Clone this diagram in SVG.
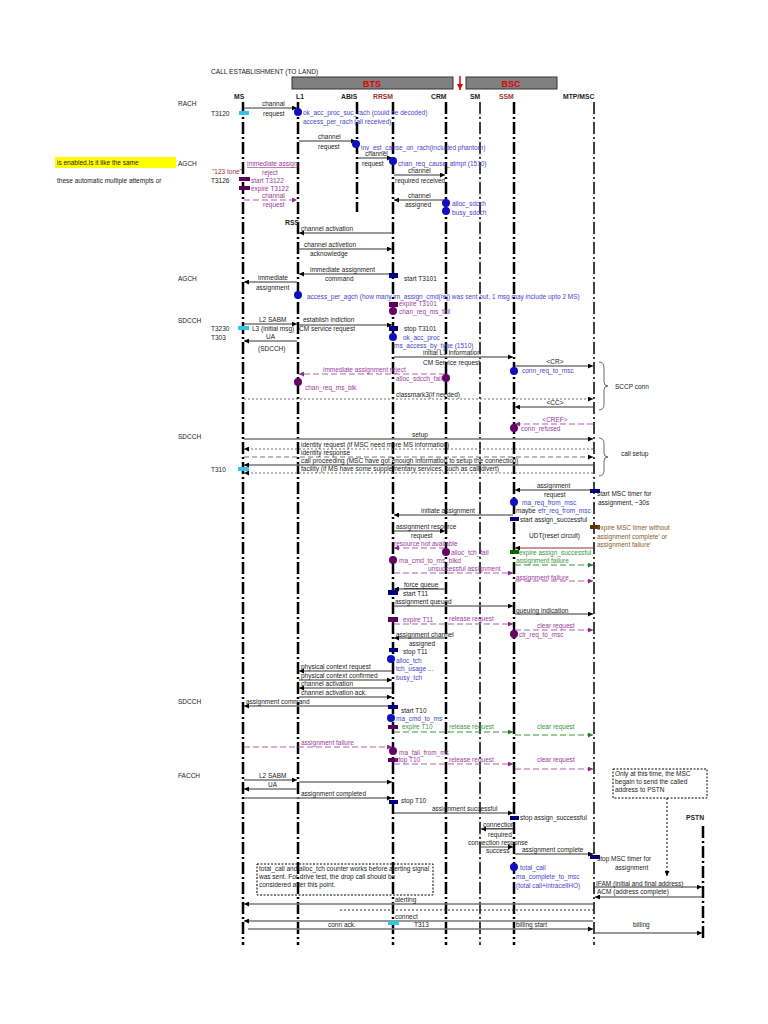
<svg xmlns="http://www.w3.org/2000/svg" width="768" height="1024" viewBox="0 0 768 1024">
<style>
.t{font-family:"Liberation Sans",Arial,sans-serif;font-size:6.5px;fill:#222}
.h{font-family:"Liberation Sans",Arial,sans-serif;font-size:6.8px;font-weight:bold;fill:#222}
.bl{fill:#4646c8}.pu{fill:#9b3a9b}.gr{fill:#3a963a}.brn{fill:#8b5a2b}.dr{fill:#993333}
.ll{stroke:#000;stroke-width:2.5;stroke-dasharray:12 3 2 3;fill:none}
.lt{stroke:#000;stroke-width:1.5;stroke-dasharray:12 3 2 3;fill:none}
.m{stroke:#777;stroke-width:1.3;fill:none;marker-end:url(#ah)}
.md{stroke:#777;stroke-width:1.1;stroke-dasharray:5 3;fill:none;marker-end:url(#ah)}
.mo{stroke:#777;stroke-width:1.1;stroke-dasharray:2 2;fill:none;marker-end:url(#ah)}
.mp{stroke:#b060b0;stroke-width:1.2;stroke-dasharray:6 3;fill:none;marker-end:url(#ahp)}
.mg{stroke:#3a963a;stroke-width:1.2;stroke-dasharray:6 3;fill:none;marker-end:url(#ahg)}
.db{fill:#1010c0}.dp{fill:#660066}
.bn{fill:#000080}.bc{fill:#33c4ea}.bp{fill:#5a005a}.bg{fill:#006600}.bb{fill:#663300}
.box{fill:none;stroke:#000;stroke-width:1;stroke-dasharray:2 1.5}
</style>
<defs>
<marker id="ah" viewBox="0 0 6 6" refX="6" refY="3" markerWidth="5" markerHeight="5" markerUnits="userSpaceOnUse" orient="auto"><path d="M0,0 L6,3 L0,6 z" fill="#000"/></marker>
<marker id="ahp" viewBox="0 0 6 6" refX="6" refY="3" markerWidth="5" markerHeight="5" markerUnits="userSpaceOnUse" orient="auto"><path d="M0,0 L6,3 L0,6 z" fill="#8a2a8a"/></marker>
<marker id="ahg" viewBox="0 0 6 6" refX="6" refY="3" markerWidth="5" markerHeight="5" markerUnits="userSpaceOnUse" orient="auto"><path d="M0,0 L6,3 L0,6 z" fill="#2a7a2a"/></marker>
<marker id="ahr" viewBox="0 0 6 6" refX="6" refY="3" markerWidth="6" markerHeight="6" markerUnits="userSpaceOnUse" orient="auto"><path d="M0,0 L6,3 L0,6 z" fill="#e00000"/></marker>
</defs>
<rect width="768" height="1024" fill="#fff"/>

<g id="header">
<text class="t" x="211" y="74" style="font-size:6.6px">CALL ESTABLISHMENT (TO LAND)</text>
<rect x="292" y="77" width="161" height="12" fill="#808080" stroke="#333" stroke-width="1"/>
<text x="372" y="86.5" text-anchor="middle" style="font-family:'Liberation Sans',Arial,sans-serif;font-size:9px;font-weight:bold" fill="#e00000">BTS</text>
<rect x="466" y="77" width="91" height="12" fill="#808080" stroke="#333" stroke-width="1"/>
<text x="511" y="86.5" text-anchor="middle" style="font-family:'Liberation Sans',Arial,sans-serif;font-size:9px;font-weight:bold" fill="#e00000">BSC</text>
<line x1="460" y1="76" x2="460" y2="90" stroke="#e00000" stroke-width="1.5" marker-end="url(#ahr)"/>
</g>

<g id="lifelines">
<text class="h" x="234" y="99">MS</text><line class="ll" x1="243" y1="102" x2="243" y2="945"/>
<text class="h" x="296" y="99">L1</text><line class="ll" x1="298" y1="102" x2="298" y2="945"/>
<text class="h" x="341" y="99">ABIS</text><line class="ll" x1="357" y1="102" x2="357" y2="212"/>
<text class="h dr" x="373" y="99">RRSM</text><line class="ll" x1="393" y1="102" x2="393" y2="945"/>
<text class="h" x="431" y="99">CRM</text><line class="ll" x1="446" y1="102" x2="446" y2="945"/>
<text class="h" x="470" y="99">SM</text><line class="lt" x1="480" y1="102" x2="480" y2="945"/>
<text class="h dr" x="499" y="99">SSM</text><line class="ll" x1="514" y1="102" x2="514" y2="945"/>
<text class="h" x="563" y="99">MTP/MSC</text><line class="lt" x1="594" y1="102" x2="594" y2="945"/>
<text class="h" x="285" y="225">RSS</text>
<text class="h" x="686" y="820">PSTN</text><line class="ll" x1="703" y1="826" x2="703" y2="938"/>
</g>

<g id="side-labels">
<text class="t" x="178" y="106">RACH</text>
<text class="t" x="211" y="116">T3120</text>
<rect x="55" y="157" width="121" height="11" fill="#ffff00"/>
<text class="t" x="57" y="165">is enabled.Is it like the same</text>
<text class="t" x="178" y="166">AGCH</text>
<text class="t" x="57" y="183">these automatic multiple attempts or</text>
<text class="t dr" x="212" y="174">"123 tone"</text>
<text class="t" x="211" y="183">T3126</text>
<text class="t" x="178" y="281">AGCH</text>
<text class="t" x="178" y="323">SDCCH</text>
<text class="t" x="211" y="331">T3230</text>
<text class="t" x="211" y="340">T303</text>
<text class="t" x="178" y="439">SDCCH</text>
<text class="t" x="211" y="472">T310</text>
<text class="t" x="178" y="704">SDCCH</text>
<text class="t" x="178" y="778">FACCH</text>
</g>

<g id="connectors">
<line class="m" x1="244" y1="108" x2="297" y2="108"/>
<text class="t" x="262" y="106">channal</text><text class="t" x="263" y="116">request</text>
<line class="m" x1="299" y1="141" x2="356" y2="141"/>
<text class="t" x="318" y="139">channel</text><text class="t" x="318" y="149">request</text>
<line class="m" x1="358" y1="158" x2="392" y2="158"/>
<text class="t" x="365" y="156">channel</text><text class="t" x="362" y="166">request</text>
<line class="m" x1="394" y1="175" x2="445" y2="175"/>
<text class="t" x="408" y="173">channel</text><text class="t" x="395" y="183">required received</text>
<text class="t pu" x="247" y="166" text-decoration="underline">immediate assign</text>
<text class="t pu" x="262" y="175">reject</text>
<line class="mp" x1="244" y1="200" x2="297" y2="200"/>
<text class="t pu" x="262" y="198">channal</text><text class="t pu" x="263" y="207">request</text>
<line class="m" x1="445" y1="200" x2="394" y2="200"/>
<text class="t" x="408" y="198">channel</text><text class="t" x="405" y="207">assigned</text>
<line class="m" x1="392" y1="233" x2="299" y2="233"/>
<text class="t" x="301" y="231">channel activation</text>
<line class="m" x1="299" y1="249" x2="392" y2="249"/>
<text class="t" x="304" y="247">channel activetion</text><text class="t" x="310" y="256">acknowledge</text>
<line class="m" x1="392" y1="274" x2="299" y2="274"/>
<text class="t" x="310" y="272">immediate assignment</text><text class="t" x="325" y="281">command</text>
<line class="m" x1="297" y1="282" x2="244" y2="282"/>
<text class="t" x="258" y="280">immediate</text><text class="t" x="256" y="290">assignment</text>
<line class="m" x1="244" y1="324" x2="297" y2="324"/>
<text class="t" x="259" y="322">L2 SABM</text><text class="t" x="252" y="331">L3 (initial msg)</text>
<line class="m" x1="299" y1="325" x2="392" y2="325"/>
<text class="t" x="303" y="322">establish indiction</text><text class="t" x="299" y="331">CM service request</text>
<line class="m" x1="297" y1="341" x2="244" y2="341"/>
<text class="t" x="266" y="339">UA</text><text class="t" x="258" y="351">(SDCCH)</text>
<line class="m" x1="394" y1="357" x2="513" y2="357"/>
<text class="t" x="423" y="355">initial L3 information</text><text class="t" x="423" y="365">CM Service request</text>
<line class="m" x1="515" y1="366" x2="593" y2="366"/>
<text class="t" x="555" y="364" text-anchor="middle">&lt;CR&gt;</text>
<line class="mp" x1="445" y1="374" x2="299" y2="374"/>
<text class="t pu" x="323" y="372">immediate assignment reject</text>
<line class="mo" x1="244" y1="399" x2="593" y2="399"/>
<text class="t" x="396" y="397">classmark3(if needed)</text>
<line class="m" x1="593" y1="407" x2="515" y2="407"/>
<text class="t" x="555" y="405" text-anchor="middle">&lt;CC&gt;</text>
<line class="mp" x1="593" y1="424" x2="515" y2="424"/>
<text class="t pu" x="555" y="422" text-anchor="middle">&lt;CREF&gt;</text>
<path d="M599,362 Q604,362 604,368 L604,382 Q604,386 608,386 Q604,386 604,390 L604,404 Q604,410 599,410" fill="none" stroke="#444" stroke-width="0.8"/>
<text class="t" x="615" y="389">SCCP conn</text>
<line class="m" x1="244" y1="439" x2="593" y2="439"/>
<text class="t" x="412" y="437">setup</text>
<line class="mo" x1="593" y1="449" x2="244" y2="449"/>
<text class="t" x="301" y="447">identity request (if MSC need more MS information)</text>
<line class="md" x1="244" y1="457" x2="593" y2="457"/>
<text class="t" x="301" y="455">identity response</text>
<line class="m" x1="593" y1="465" x2="244" y2="465"/>
<text class="t" x="301" y="463">call proceeding (MSC have got enough information to setup the connection)</text>
<line class="mo" x1="593" y1="473" x2="244" y2="473"/>
<text class="t" x="301" y="471">facility (if MS have some supplementary services, such as call divert)</text>
<path d="M599,438 Q604,438 604,444 L604,453 Q604,457 608,457 Q604,457 604,461 L604,470 Q604,476 599,476" fill="none" stroke="#444" stroke-width="0.8"/>
<text class="t" x="621" y="456">call setup</text>
<line class="m" x1="593" y1="490" x2="515" y2="490"/>
<text class="t" x="537" y="488">assignment</text><text class="t" x="544" y="497">request</text>
<line class="m" x1="513" y1="515" x2="394" y2="515"/>
<text class="t" x="421" y="513">initiate assignment</text>
<text class="t" x="529" y="538">UDT(reset circuit)</text>
<line x1="593" y1="548" x2="515" y2="548" stroke="#993333" stroke-width="1.2" marker-end="url(#ah)"/>
<line class="m" x1="394" y1="531" x2="445" y2="531"/>
<text class="t" x="396" y="529">assignment resource</text><text class="t" x="411" y="538">request</text>
<line class="mp" x1="445" y1="548" x2="394" y2="548"/>
<text class="t pu" x="394" y="546">resource not available</text>
<line class="mg" x1="515" y1="565" x2="593" y2="565"/>
<text class="t gr" x="516" y="563">assignment failure</text>
<line class="mp" x1="394" y1="573" x2="513" y2="573"/>
<text class="t pu" x="428" y="571">unsuccessful assignment</text>
<line class="mp" x1="515" y1="581" x2="593" y2="581"/>
<text class="t pu" x="516" y="580">assignment failure</text>
<line class="m" x1="445" y1="589" x2="394" y2="589"/>
<text class="t" x="404" y="587" text-decoration="underline">force queue</text>
<line class="m" x1="394" y1="606" x2="513" y2="606"/>
<text class="t" x="395" y="604">assignment queued</text>
<line class="m" x1="515" y1="614" x2="593" y2="614"/>
<text class="t" x="516" y="613">queuing indication</text>
<line class="mp" x1="394" y1="624" x2="513" y2="624"/>
<text class="t pu" x="449" y="621">release request</text>
<line class="mp" x1="515" y1="630" x2="593" y2="630"/>
<text class="t pu" x="537" y="628">clear request</text>
<line class="m" x1="445" y1="638" x2="394" y2="638"/>
<text class="t" x="396" y="637">assignment channel</text><text class="t" x="409" y="646">assigned</text>
<line class="m" x1="392" y1="671" x2="299" y2="671"/>
<text class="t" x="301" y="669">physical context request</text>
<line class="m" x1="299" y1="680" x2="392" y2="680"/>
<text class="t" x="301" y="678">physical context confirmed</text>
<line class="m" x1="392" y1="688" x2="299" y2="688"/>
<text class="t" x="301" y="686">channel activation</text>
<line class="m" x1="299" y1="697" x2="392" y2="697"/>
<text class="t" x="301" y="695">channel activation ack.</text>
<line class="m" x1="392" y1="706" x2="244" y2="706"/>
<text class="t" x="246" y="704">assignment command</text>
<line class="mg" x1="394" y1="732" x2="513" y2="732"/>
<text class="t gr" x="449" y="729">release request</text>
<line class="mg" x1="515" y1="735" x2="593" y2="735"/>
<text class="t gr" x="537" y="729">clear request</text>
<line class="mp" x1="244" y1="747" x2="392" y2="747"/>
<text class="t pu" x="301" y="745">assignment failure</text>
<line class="mp" x1="394" y1="764" x2="513" y2="764"/>
<text class="t pu" x="449" y="762">release request</text>
<line class="mp" x1="515" y1="769" x2="593" y2="769"/>
<text class="t pu" x="537" y="762">clear request</text>
<line class="m" x1="244" y1="780" x2="297" y2="780"/>
<line class="m" x1="299" y1="782" x2="392" y2="782"/>
<text class="t" x="259" y="778">L2 SABM</text>
<line class="m" x1="297" y1="789" x2="244" y2="789"/>
<text class="t" x="268" y="787">UA</text>
<line class="m" x1="244" y1="798" x2="392" y2="798"/>
<text class="t" x="301" y="796">assignment completed</text>
<line class="m" x1="394" y1="813" x2="513" y2="813"/>
<text class="t" x="432" y="811">assignment successful</text>
<line class="m" x1="513" y1="829" x2="481" y2="829"/>
<text class="t" x="483" y="827" text-decoration="underline">connection</text><text class="t" x="488" y="837">required</text>
<line class="m" x1="481" y1="847" x2="513" y2="847"/>
<text class="t" x="468" y="845">connection response</text><text class="t" x="486" y="853">success</text>
<line class="m" x1="515" y1="854" x2="593" y2="854"/>
<text class="t" x="522" y="852">assignment complete</text>
<line class="m" x1="595" y1="887" x2="702" y2="887"/>
<text class="t" x="596" y="886">IFAM (initial and final address)</text>
<line class="m" x1="702" y1="897" x2="595" y2="897"/>
<text class="t" x="597" y="894">ACM (address complete)</text>
<line class="m" x1="593" y1="904" x2="244" y2="904"/>
<text class="t" x="395" y="902">alerting</text>
<line x1="340" y1="910" x2="594" y2="910" stroke="#333" stroke-width="1" stroke-dasharray="2 2"/>
<line class="m" x1="593" y1="921" x2="244" y2="921"/>
<text class="t" x="395" y="919">connect</text>
<line class="m" x1="248" y1="929" x2="593" y2="929"/>
<text class="t" x="328" y="927">conn ack.</text>
<text class="t" x="414" y="927">T313</text>
<text class="t" x="516" y="927">billing start</text>
<line class="m" x1="595" y1="933" x2="702" y2="933"/>
<text class="t" x="633" y="927">billing</text>
<line x1="667" y1="798" x2="667" y2="876" stroke="#000" stroke-width="1" stroke-dasharray="2 2" marker-end="url(#ah)"/>
</g>

<g id="events">
<rect class="bc" x="239" y="111" width="10" height="4"/>
<circle class="db" cx="298" cy="112" r="4"/>
<text class="t bl" x="303" y="115">ok_acc_proc_suc_rach (could be decoded)</text>
<text class="t bl" x="303" y="124">access_per_rach (all received)</text>
<circle class="db" cx="356" cy="144" r="4"/>
<text class="t bl" x="361" y="150">inv_est_cause_on_rach(included phantom)</text>
<circle class="db" cx="393" cy="161" r="4"/>
<text class="t bl" x="398" y="166">chan_req_cause_atmpt (1510)</text>
<rect class="bp" x="239" y="177" width="11" height="4"/>
<text class="t pu" x="251" y="183">start T3122</text>
<rect class="bp" x="239" y="186" width="11" height="4"/>
<text class="t pu" x="251" y="191">expire T3122</text>
<circle class="db" cx="446" cy="203" r="4"/>
<circle class="db" cx="446" cy="211" r="4"/>
<text class="t bl" x="452" y="206">alloc_sdcch</text>
<text class="t bl" x="452" y="215">busy_sdcch</text>
<rect class="bn" x="389" y="273" width="9" height="5"/>
<text class="t" x="404" y="281">start T3101</text>
<circle class="db" cx="298" cy="295" r="4"/>
<text class="t bl" x="307" y="299">access_per_agch (how many im_assign_cmd(rej) was sent out, 1 msg may include upto 2 MS)</text>
<rect class="bp" x="389" y="302" width="9" height="5"/>
<text class="t pu" x="399" y="306">expire T3101</text>
<circle class="dp" cx="393" cy="311" r="4"/>
<text class="t pu" x="399" y="314">chan_req_ms_fail</text>
<rect class="bc" x="238" y="326" width="11" height="4"/>
<rect class="bn" x="389" y="326" width="9" height="5"/>
<text class="t" x="404" y="331">stop T3101</text>
<circle class="db" cx="393" cy="337" r="4"/>
<text class="t bl" x="403" y="340">ok_acc_proc</text>
<text class="t bl" x="394" y="348">ms_access_by_type (1510)</text>
<circle class="db" cx="514" cy="371" r="4"/>
<text class="t bl" x="522" y="373">conn_req_to_msc</text>
<circle class="dp" cx="446" cy="378" r="4"/>
<text class="t pu" x="396" y="381">alloc_sdcch_fail</text>
<circle class="dp" cx="298" cy="382" r="4"/>
<text class="t pu" x="305" y="390">chan_req_ms_blk</text>
<circle class="dp" cx="514" cy="428" r="4"/>
<text class="t pu" x="521" y="431">conn_refused</text>
<rect class="bc" x="238" y="467" width="11" height="4"/>
<rect class="bn" x="590" y="489" width="10" height="4"/>
<text class="t" x="597" y="496">start MSC timer for</text>
<text class="t" x="598" y="505">assignment, ~30s</text>
<circle class="db" cx="514" cy="502" r="4"/>
<text class="t bl" x="522" y="505">ma_req_from_msc</text>
<text class="t" x="516" y="513">maybe</text><text class="t bl" x="538" y="513">efr_req_from_msc</text>
<rect class="bn" x="510" y="517" width="9" height="4"/>
<text class="t" x="520" y="522">start assign_successful</text>
<rect class="bb" x="590" y="525" width="10" height="4"/>
<text class="t brn" x="597" y="530">expire MSC timer without</text>
<text class="t brn" x="597" y="539">assignment complete' or</text>
<text class="t brn" x="597" y="547">assignment failure'</text>
<circle class="dp" cx="446" cy="552" r="4"/>
<text class="t pu" x="451" y="555">alloc_tch_fail</text>
<rect class="bg" x="510" y="550" width="9" height="4"/>
<text class="t gr" x="519" y="555">expire assign_successful</text>
<circle class="dp" cx="393" cy="560" r="4"/>
<text class="t pu" x="399" y="563">ma_cmd_to_ms_blkd</text>
<rect class="bn" x="388" y="590" width="10" height="5"/>
<text class="t" x="403" y="596">start T11</text>
<rect class="bp" x="388" y="617" width="10" height="5"/>
<text class="t pu" x="403" y="622">expire T11</text>
<circle class="dp" cx="514" cy="634" r="4"/>
<text class="t pu" x="519" y="637">clr_req_to_msc</text>
<rect class="bn" x="389" y="648" width="9" height="4"/>
<text class="t" x="403" y="654">stop T11</text>
<circle class="db" cx="391" cy="659" r="4"/>
<text class="t bl" x="396" y="663">alloc_tch</text>
<text class="t bl" x="396" y="671">tch_usage ...</text>
<text class="t bl" x="396" y="680">busy_tch</text>
<rect class="bn" x="388" y="705" width="10" height="4"/>
<text class="t" x="401" y="713">start T10</text>
<circle class="db" cx="391" cy="718" r="4"/>
<text class="t bl" x="396" y="721">ma_cmd_to_ms</text>
<rect class="bp" x="388" y="725" width="10" height="4"/>
<text class="t gr" x="402" y="729">expire T10</text>
<circle class="dp" cx="393" cy="751" r="4"/>
<text class="t pu" x="399" y="755">ma_fail_from_ms</text>
<rect class="bp" x="388" y="758" width="10" height="4"/>
<text class="t pu" x="395" y="762">stop T10</text>
<rect class="bn" x="389" y="800" width="9" height="4"/>
<text class="t" x="401" y="803">stop T10</text>
<rect class="bn" x="510" y="816" width="9" height="4"/>
<text class="t" x="520" y="820">stop assign_successful</text>
<rect class="bn" x="590" y="855" width="10" height="4"/>
<text class="t" x="597" y="861">stop MSC timer for</text>
<text class="t" x="615" y="870">assignment</text>
<circle class="db" cx="514" cy="867" r="4"/>
<text class="t bl" x="520" y="870">total_call</text>
<text class="t bl" x="516" y="879">ma_complete_to_msc</text>
<text class="t bl" x="516" y="888">(total call+intracellHO)</text>
<rect class="bc" x="388" y="921" width="11" height="4"/>
</g>

<g id="notes">
<rect class="box" x="257" y="864" width="176" height="31" fill="#fff"/>
<text class="t" x="259" y="871">total_call and alloc_tch counter works before alerting signal</text>
<text class="t" x="259" y="879">was sent.  For drive test, the drop call should be</text>
<text class="t" x="259" y="887">considered after this point.</text>
<rect class="box" x="613" y="769" width="94" height="29"/>
<text class="t" x="615" y="776">Only at this time, the MSC</text>
<text class="t" x="615" y="784">begain to send the called</text>
<text class="t" x="615" y="792">address to PSTN</text>
</g>
</svg>
